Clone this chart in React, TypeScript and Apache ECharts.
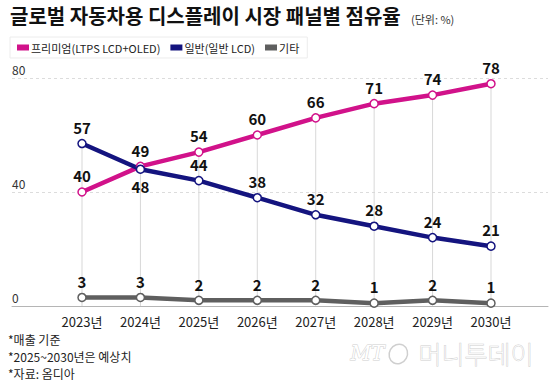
import React, { useEffect, useRef } from "react";
import * as echarts from "echarts";

const categories = ["2023년", "2024년", "2025년", "2026년", "2027년", "2028년", "2029년", "2030년"];
const premium = [40, 49, 54, 60, 66, 71, 74, 78];
const general = [57, 48, 44, 38, 32, 28, 24, 21];
const others = [3, 3, 2, 2, 2, 1, 2, 1];
const seriesNames = ["프리미엄(LTPS LCD+OLED)", "일반(일반 LCD)", "기타"];
const yTicks = { min: 0, max: 80, interval: 40 };
const title = "글로벌 자동차용 디스플레이 시장 패널별 점유율";
const unit = "(단위: %)";
const notes = ["*매출 기준", "*2025~2030년은 예상치", "*자료: 옴디아"];

const FONT = "'Noto Sans CJK KR', 'Noto Sans', sans-serif";
const COLORS = ["#d1128a", "#14147f", "#5f5f5f"];

export default function App() {
  const ref = useRef<HTMLDivElement>(null);
  useEffect(() => {
    if (!ref.current) return;
    const chart = echarts.init(ref.current, undefined, { renderer: "svg" });
    const maxes = categories.map((_, i) => Math.max(premium[i], general[i], others[i]));
    const lineSeries = (name: string, data: number[], color: string, below: number[] = []) => ({
      type: "line",
      name,
      xAxisIndex: 1,
      yAxisIndex: 1,
      data: data.map((v, i) =>
        below.includes(i) ? { value: v, label: { position: "bottom", distance: 5 } } : v
      ),
      lineStyle: { color, width: 4.5 },
      itemStyle: { color: "#fff", borderColor: color, borderWidth: 1.5 },
      symbol: "circle",
      symbolSize: 8,
      z: 3,
      label: {
        show: true,
        position: "top",
        distance: 4,
        fontFamily: FONT,
        fontSize: 15,
        fontWeight: "bold",
        color: "#111",
      },
    });
    chart.setOption({
      animation: false,
      backgroundColor: "#fff",
      textStyle: { fontFamily: FONT },
      legend: {
        data: seriesNames.map((n, i) => ({ name: n, itemStyle: { color: COLORS[i] } })),
        left: 10,
        top: 37,
        itemWidth: 10,
        itemHeight: 4,
        itemGap: 10,
        icon: "rect",
        padding: [5, 8, 5, 7],
        borderColor: "#ececec",
        borderWidth: 1,
        textStyle: { fontFamily: FONT, fontSize: 11, color: "#222", padding: [0, 0, 0, -2] },
      },
      grid: [
        { left: 12, right: 12, top: 78, bottom: 78 },
        { left: 82, right: 69, top: 78, bottom: 78 },
      ],
      xAxis: [
        {
          gridIndex: 0,
          type: "category",
          data: [""],
          axisLine: { show: true, lineStyle: { color: "#b5b5b5", width: 1 } },
          axisTick: { show: false },
          axisLabel: { show: false },
          splitLine: { show: false },
        },
        {
          gridIndex: 1,
          type: "category",
          data: categories,
          boundaryGap: false,
          axisLine: { show: false },
          axisTick: { show: false },
          axisLabel: { fontFamily: FONT, fontSize: 13, color: "#222", margin: 9 },
          splitLine: { show: false },
        },
      ],
      yAxis: [
        {
          gridIndex: 0,
          type: "value",
          min: yTicks.min,
          max: yTicks.max,
          interval: yTicks.interval,
          axisLine: { show: false },
          axisTick: { show: false },
          axisLabel: {
            inside: true,
            margin: 0,
            align: "left",
            verticalAlign: "bottom",
            padding: [0, 0, 3, 0],
            fontFamily: FONT,
            fontSize: 12,
            color: "#333",
          },
          splitLine: { show: true, lineStyle: { color: "#dcdcdc", type: [3, 3], width: 1 } },
        },
        {
          gridIndex: 1,
          type: "value",
          min: yTicks.min,
          max: yTicks.max,
          interval: yTicks.interval,
          show: false,
        },
      ],
      series: [
        {
          type: "bar",
          name: "vlines",
          xAxisIndex: 1,
          yAxisIndex: 1,
          data: maxes,
          barWidth: 1,
          itemStyle: { color: "#d8d8d8" },
          silent: true,
          z: 1,
        },
        lineSeries(seriesNames[0], premium, COLORS[0]),
        lineSeries(seriesNames[1], general, COLORS[1], [1]),
        lineSeries(seriesNames[2], others, COLORS[2]),
      ],
      graphic: [
        {
          type: "text",
          left: 10,
          top: 5,
          style: { text: title, fontFamily: FONT, fontSize: 20, fontWeight: "bold", fill: "#111" },
        },
        {
          type: "text",
          left: 411,
          top: 13,
          style: { text: unit, fontFamily: FONT, fontSize: 11, fill: "#333" },
        },
        ...notes.map((t, i) => ({
          type: "text",
          left: 8,
          top: 333 + i * 17,
          style: { text: t, fontFamily: FONT, fontSize: 12, fill: "#222" },
        })),
        {
          type: "text",
          left: 350,
          top: 342,
          style: {
            text: "MT",
            fontFamily: "'DejaVu Serif', serif",
            fontStyle: "italic",
            fontSize: 20,
            fill: "#fff",
            stroke: "#cfcfcf",
            lineWidth: 1,
          },
        },
        {
          type: "ellipse",
          shape: { cx: 398, cy: 354, rx: 9, ry: 10 },
          rotation: -0.5,
          originX: 398,
          originY: 354,
          style: { fill: "none", stroke: "#cfcfcf", lineWidth: 1.5 },
        },
        {
          type: "text",
          left: 418,
          top: 340,
          style: {
            text: "머니투데이",
            fontFamily: FONT,
            fontSize: 25,
            fontWeight: 100,
            fill: "#fff",
            stroke: "#cfcfcf",
            lineWidth: 1,
          },
        },
      ],
    });
    return () => chart.dispose();
  }, []);
  return (
    <div
      ref={ref}
      style={{ position: "fixed", left: 0, top: 0, width: 560, height: 384, background: "#fff" }}
    />
  );
}
